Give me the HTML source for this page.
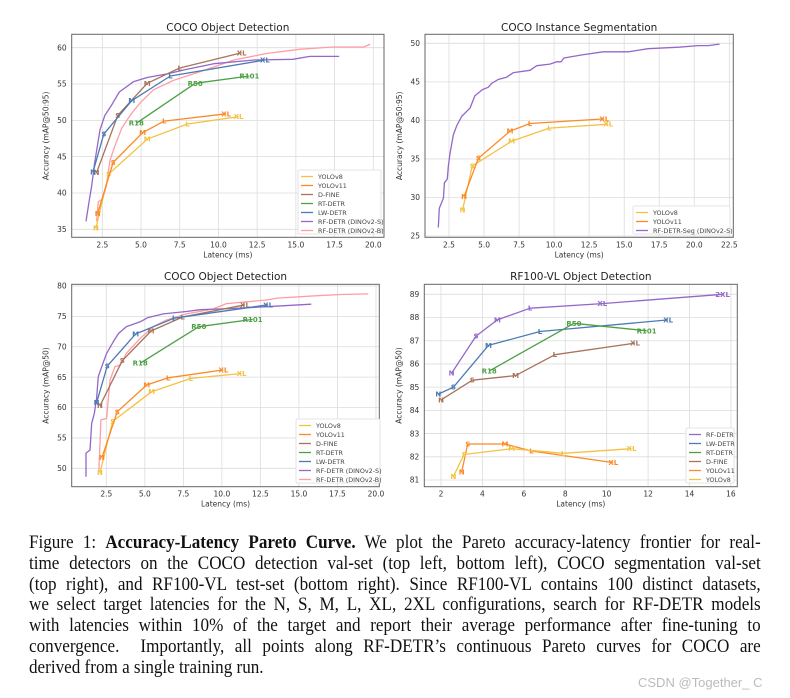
<!DOCTYPE html>
<html><head><meta charset="utf-8">
<style>
html,body{margin:0;padding:0;background:#fff;}
body{width:790px;height:698px;position:relative;overflow:hidden;}
#fig{position:absolute;left:0;top:0;}
#caption{position:absolute;left:29px;top:533px;width:813px;font-family:"Liberation Serif",serif;font-size:19px;line-height:20.8px;color:#111;transform:scaleX(0.9);transform-origin:0 0;}
#caption div{text-align:justify;text-align-last:justify;white-space:nowrap;}
#caption div.last{text-align-last:left;}
#wm{position:absolute;left:638px;top:675px;font-family:"Liberation Sans",sans-serif;font-size:13px;color:#bbb;white-space:nowrap;}
</style></head><body>
<svg id="fig" width="790" height="520"></svg>
<div id="caption">
<div>Figure 1: <b>Accuracy-Latency Pareto Curve.</b> We plot the Pareto accuracy-latency frontier for real-</div>
<div>time detectors on the COCO detection val-set (top left, bottom left), COCO segmentation val-set</div>
<div>(top right), and RF100-VL test-set (bottom right). Since RF100-VL contains 100 distinct datasets,</div>
<div>we select target latencies for the N, S, M, L, XL, 2XL configurations, search for RF-DETR models</div>
<div>with latencies within 10% of the target and report their average performance after fine-tuning to</div>
<div>convergence. &nbsp;Importantly, all points along RF-DETR’s continuous Pareto curves for COCO are</div>
<div class="last">derived from a single training run.</div>
</div>
<div id="wm">CSDN @Together_ C</div>
<script>
// ===== Panel 1: COCO detection mAP50:95 =====
const p1_yolov8_x=[2.09,2.91,5.4,8.0,11.3];
const p1_yolov8_y=[35.2,42.6,47.4,49.5,50.5];
const p1_yolov11_x=[2.2,3.2,5.1,6.5,10.5];
const p1_yolov11_y=[37.2,44.2,48.3,49.9,50.9];
const p1_dfine_x=[2.13,3.5,5.4,7.5,11.5];
const p1_dfine_y=[42.8,50.7,55.1,57.2,59.3];
const p1_rtdetr_x=[4.7,8.5,12.0];
const p1_rtdetr_y=[49.6,55.1,56.1];
const p1_lwdetr_x=[1.9,2.6,4.4,6.9,13.0];
const p1_lwdetr_y=[42.9,48.1,52.7,56.1,58.3];
const p1_rfs_x=[1.45,1.66,1.81,2.0,2.35,2.67,3.1,3.6,4.5,5.4,6.7,7.9,9.7,12.3,14.8,15.9,17.8];
const p1_rfs_y=[36.1,39.0,40.9,44.1,48.7,50.7,52.1,53.9,55.3,55.9,56.4,57.0,57.8,58.3,58.4,58.8,58.8];
const p1_rfb_x=[2.13,2.24,2.5,2.75,3.0,3.3,3.75,4.3,4.9,5.8,7.1,8.8,11.0,13.1,15.3,17.4,19.4,19.8];
const p1_rfb_y=[36.1,38.8,39.1,40.9,44.5,46.4,48.9,50.7,52.3,54.2,55.5,56.7,58.3,59.2,59.8,60.1,60.1,60.5];
// ===== Panel 2: COCO segmentation =====
const p2_yolov8_x=[3.47,4.16,6.97,9.66,13.87];
const p2_yolov8_y=[28.4,34.1,37.3,39.0,39.5];
const p2_yolov11_x=[3.57,4.6,6.85,8.28,13.58];
const p2_yolov11_y=[30.1,35.1,38.6,39.6,40.2];
const p2_rfseg_x=[1.74,1.81,2.1,2.17,2.38,2.45,2.57,2.81,3.05,3.4,4.0,4.35,4.88,5.3,5.54,6.0,6.6,7.1,8.28,8.76,9.7,10.2,10.5,10.7,12.0,13.5,15.3,16.7,18.9,20.3,21.0,21.8];
const p2_rfseg_y=[26.1,28.6,29.9,31.9,32.4,34.0,35.7,38.1,39.3,40.5,41.6,43.2,44.0,44.3,44.8,45.3,45.6,46.2,46.5,47.1,47.3,47.6,47.6,48.1,48.5,48.9,48.9,49.3,49.5,49.7,49.7,49.9];
// ===== Panel 3: COCO detection mAP50 =====
const p3_yolov8_x=[2.09,2.91,5.44,7.99,11.28];
const p3_yolov8_y=[49.3,57.7,62.6,64.8,65.6];
const p3_yolov11_x=[2.22,3.21,5.12,6.52,10.1];
const p3_yolov11_y=[51.8,59.3,63.7,64.9,66.2];
const p3_dfine_x=[2.09,3.54,5.4,7.45,11.5];
const p3_dfine_y=[60.3,67.7,72.6,74.9,76.9];
const p3_rtdetr_x=[4.7,8.5,12.0];
const p3_rtdetr_y=[67.3,73.3,74.5];
const p3_lwdetr_x=[1.87,2.56,4.4,6.9,13.0];
const p3_lwdetr_y=[60.8,66.8,72.1,74.7,76.9];
const p3_rfs_x=[1.18,1.18,1.44,1.55,1.72,1.87,1.98,2.2,2.52,2.95,3.3,3.8,4.7,5.2,6.2,7.7,8.6,10.7,12.9,15.8];
const p3_rfs_y=[48.6,52.5,53.0,57.4,59.0,61.5,65.1,66.7,68.9,70.8,72.2,73.3,74.1,74.8,75.4,75.8,76.1,76.3,76.6,77.0];
const p3_rfb_x=[2.02,2.09,2.15,2.52,2.74,3.06,3.4,3.8,4.7,5.55,6.4,7.7,9.4,10.3,12.9,13.6,16.2,17.7,19.5];
const p3_rfb_y=[49.7,54.1,58.0,58.2,64.5,66.7,67.0,68.9,71.4,73.3,74.4,75.4,76.2,77.1,77.7,78.0,78.4,78.6,78.7];
// ===== Panel 4: RF100-VL =====
const p4_rfdetr_x=[2.51,3.69,4.72,6.3,9.79,15.6];
const p4_rfdetr_y=[85.6,87.2,87.9,88.4,88.6,89.0];
const p4_lwdetr_x=[1.87,2.6,4.29,6.78,12.97];
const p4_lwdetr_y=[84.7,85.0,86.8,87.4,87.9];
const p4_rtdetr_x=[4.33,8.42,11.93];
const p4_rtdetr_y=[85.7,87.75,87.43];
const p4_dfine_x=[2.0,3.51,5.6,7.5,11.37];
const p4_dfine_y=[84.45,85.3,85.5,86.4,86.9];
const p4_yolov11_x=[3.0,3.29,5.09,6.37,10.32];
const p4_yolov11_y=[81.35,82.55,82.55,82.25,81.75];
const p4_yolov8_x=[2.6,3.11,5.41,7.9,11.2];
const p4_yolov8_y=[81.15,82.1,82.35,82.15,82.35];

const sizeLabels=["N","S","M","L","XL"];
const rtLabels=["R18","R50","R101"];
const rf4Labels=["N","S","M","L","XL","2XL"];
const yoloNames=["YOLOv8","YOLOv11"];

const C={y8:"#f4c243",y11:"#fb8a26",df:"#a8735b",rt:"#4da046",lw:"#4c7bb4",rfs:"#9467c9",rfb:"#ff9da3"};
const NS="http://www.w3.org/2000/svg";
const svg=document.getElementById('fig');
function mk(tag,attrs,parent){const e=document.createElementNS(NS,tag);for(const k in attrs)e.setAttribute(k,attrs[k]);(parent||svg).appendChild(e);return e;}

function panel(cfg){
  const g=mk('g',{});
  
  
  const [x0,y0,x1,y1]=cfg.box;
  const X=v=>cfg.xp0+(v-cfg.xv0)*cfg.xs;
  const Y=v=>cfg.yp0-(v-cfg.yv0)*cfg.ys;
  cfg.xticks.forEach(t=>{
    const l=mk('line',{x1:X(t),x2:X(t),y1:y0,y2:y1,stroke:'#dcdcdc','stroke-width':0.8},g);
    
    
    const tx=mk('text',{x:X(t),y:y1+10,'text-anchor':'middle','font-size':7.5,fill:'#333'},g);
    tx.textContent=cfg.xfmt(t);
    
    
  });
  cfg.yticks.forEach(t=>{
    const l=mk('line',{x1:x0,x2:x1,y1:Y(t),y2:Y(t),stroke:'#dcdcdc','stroke-width':0.8},g);
    
    
    const tx=mk('text',{x:x0-5,y:Y(t)+2.7,'text-anchor':'end','font-size':7.5,fill:'#333'},g);
    tx.textContent=String(t);
    
    
  });
  const fr=mk('rect',{x:x0,y:y0,width:x1-x0,height:y1-y0,fill:'none',stroke:'#666','stroke-width':1},g);
  
  
  const ti=mk('text',{x:(x0+x1)/2,y:cfg.ty,'text-anchor':'middle','font-size':10.5,fill:'#222'},g);
  ti.textContent=cfg.title;
  
  
  const xl=mk('text',{x:(x0+x1)/2,y:y1+20,'text-anchor':'middle','font-size':7.5,fill:'#333'},g);
  xl.textContent='Latency (ms)';
  
  
  const yx=x0-23,yy=(y0+y1)/2;
  const yl=mk('text',{x:yx,y:yy,'text-anchor':'middle','font-size':7.5,fill:'#333',transform:`rotate(-90 ${yx} ${yy})`},g);
  yl.textContent=cfg.ylabel;
  
  
  cfg.series.forEach(s=>{
    const pts=s.x.map((v,i)=>X(v).toFixed(1)+','+Y(s.y[i]).toFixed(1)).join(' ');
    const pl=mk('polyline',{points:pts,fill:'none',stroke:s.c,'stroke-width':1.3,'stroke-linejoin':'round'},g);
    
    
    if(s.labels){
      s.labels.forEach((lb,i)=>{
        const t=mk('text',{x:X(s.x[i]),y:Y(s.y[i])+2.5,'text-anchor':'middle','font-size':7,'font-weight':'bold',fill:s.c},g);
        t.textContent=lb;
        
        
      });
    }
  });
  const L=cfg.legend;
  const lr=mk('rect',{x:L.x,y:L.y,width:L.w,height:L.h,fill:'#fff',stroke:'#ddd','stroke-width':0.8,rx:1.5},g);
  
  
  cfg.legendItems.forEach((it,i)=>{
    const yy2=L.y+6.5+i*L.step;
    const ln=mk('line',{x1:L.x+3,x2:L.x+15,y1:yy2,y2:yy2,stroke:it.c,'stroke-width':1.3},g);
    
    
    const tt=mk('text',{x:L.x+20,y:yy2+2.3,'font-size':6.4,fill:'#444'},g);
    tt.textContent=it.n;
    
    
  });
}
svg.setAttribute('font-family','"DejaVu Sans", "Liberation Sans", sans-serif');
const msTicks=[2.5,5,7.5,10,12.5,15,17.5,20];
const f1=t=>t.toFixed(1);
const coLegend=[{n:'YOLOv8',c:C.y8},{n:'YOLOv11',c:C.y11},{n:'D-FINE',c:C.df},{n:'RT-DETR',c:C.rt},{n:'LW-DETR',c:C.lw},{n:'RF-DETR (DINOv2-S)',c:C.rfs},{n:'RF-DETR (DINOv2-B)',c:C.rfb}];

panel({name:'coco-detection-map5095-chart',box:[71.7,34.3,384,237.3],xp0:102.3,xv0:2.5,xs:15.486,yp0:229.3,yv0:35,ys:7.264,
 xticks:msTicks,yticks:[35,40,45,50,55,60],xfmt:f1,title:'COCO Object Detection',ty:31,ylabel:'Accuracy (mAP@50:95)',
 series:[
  {id:'rfdetr-b',x:p1_rfb_x,y:p1_rfb_y,c:C.rfb},
  {id:'rfdetr-s',x:p1_rfs_x,y:p1_rfs_y,c:C.rfs},
  {id:'yolov8',x:p1_yolov8_x,y:p1_yolov8_y,c:C.y8,labels:sizeLabels},
  {id:'yolov11',x:p1_yolov11_x,y:p1_yolov11_y,c:C.y11,labels:sizeLabels},
  {id:'dfine',x:p1_dfine_x,y:p1_dfine_y,c:C.df,labels:sizeLabels},
  {id:'rtdetr',x:p1_rtdetr_x,y:p1_rtdetr_y,c:C.rt,labels:rtLabels},
  {id:'lwdetr',x:p1_lwdetr_x,y:p1_lwdetr_y,c:C.lw,labels:sizeLabels}],
 legend:{x:298,y:170,w:83,h:64,step:9},legendItems:coLegend});

panel({name:'coco-instance-segmentation-chart',box:[425,34.3,733.3,237.3],xp0:449,xv0:2.5,xs:14.015,yp0:236,yv0:25,ys:7.707,
 xticks:[2.5,5,7.5,10,12.5,15,17.5,20,22.5],yticks:[25,30,35,40,45,50],xfmt:f1,title:'COCO Instance Segmentation',ty:31,ylabel:'Accuracy (mAP@50:95)',
 series:[
  {id:'rfdetr-seg',x:p2_rfseg_x,y:p2_rfseg_y,c:C.rfs},
  {id:'yolov8',x:p2_yolov8_x,y:p2_yolov8_y,c:C.y8,labels:sizeLabels},
  {id:'yolov11',x:p2_yolov11_x,y:p2_yolov11_y,c:C.y11,labels:sizeLabels}],
 legend:{x:633,y:206,w:97,h:28,step:9},legendItems:[{n:yoloNames[0],c:C.y8},{n:yoloNames[1],c:C.y11},{n:'RF-DETR-Seg (DINOv2-S)',c:C.rfs}]});

panel({name:'coco-detection-map50-chart',box:[71.7,284.3,379.3,486.7],xp0:106.3,xv0:2.5,xs:15.41,yp0:468.3,yv0:50,ys:6.077,
 xticks:msTicks,yticks:[50,55,60,65,70,75,80],xfmt:f1,title:'COCO Object Detection',ty:280,ylabel:'Accuracy (mAP@50)',
 series:[
  {id:'rfdetr-b',x:p3_rfb_x,y:p3_rfb_y,c:C.rfb},
  {id:'rfdetr-s',x:p3_rfs_x,y:p3_rfs_y,c:C.rfs},
  {id:'yolov8',x:p3_yolov8_x,y:p3_yolov8_y,c:C.y8,labels:sizeLabels},
  {id:'yolov11',x:p3_yolov11_x,y:p3_yolov11_y,c:C.y11,labels:sizeLabels},
  {id:'dfine',x:p3_dfine_x,y:p3_dfine_y,c:C.df,labels:sizeLabels},
  {id:'rtdetr',x:p3_rtdetr_x,y:p3_rtdetr_y,c:C.rt,labels:rtLabels},
  {id:'lwdetr',x:p3_lwdetr_x,y:p3_lwdetr_y,c:C.lw,labels:sizeLabels}],
 legend:{x:296,y:419,w:84,h:64,step:9},legendItems:coLegend});

panel({name:'rf100vl-detection-chart',box:[424.3,284.3,737.3,486.7],xp0:441,xv0:2,xs:20.71,yp0:480,yv0:81,ys:23.21,
 xticks:[2,4,6,8,10,12,14,16],yticks:[81,82,83,84,85,86,87,88,89],xfmt:t=>String(t),title:'RF100-VL Object Detection',ty:280,ylabel:'Accuracy (mAP@50)',
 series:[
  {id:'rfdetr',x:p4_rfdetr_x,y:p4_rfdetr_y,c:C.rfs,labels:rf4Labels},
  {id:'lwdetr',x:p4_lwdetr_x,y:p4_lwdetr_y,c:C.lw,labels:sizeLabels},
  {id:'rtdetr',x:p4_rtdetr_x,y:p4_rtdetr_y,c:C.rt,labels:rtLabels},
  {id:'dfine',x:p4_dfine_x,y:p4_dfine_y,c:C.df,labels:sizeLabels},
  {id:'yolov11',x:p4_yolov11_x,y:p4_yolov11_y,c:C.y11,labels:sizeLabels},
  {id:'yolov8',x:p4_yolov8_x,y:p4_yolov8_y,c:C.y8,labels:sizeLabels}],
 legend:{x:686,y:428,w:48,h:55,step:9},legendItems:[{n:'RF-DETR',c:C.rfs},{n:'LW-DETR',c:C.lw},{n:'RT-DETR',c:C.rt},{n:'D-FINE',c:C.df},{n:yoloNames[1],c:C.y11},{n:yoloNames[0],c:C.y8}]});
</script>
</body></html>
